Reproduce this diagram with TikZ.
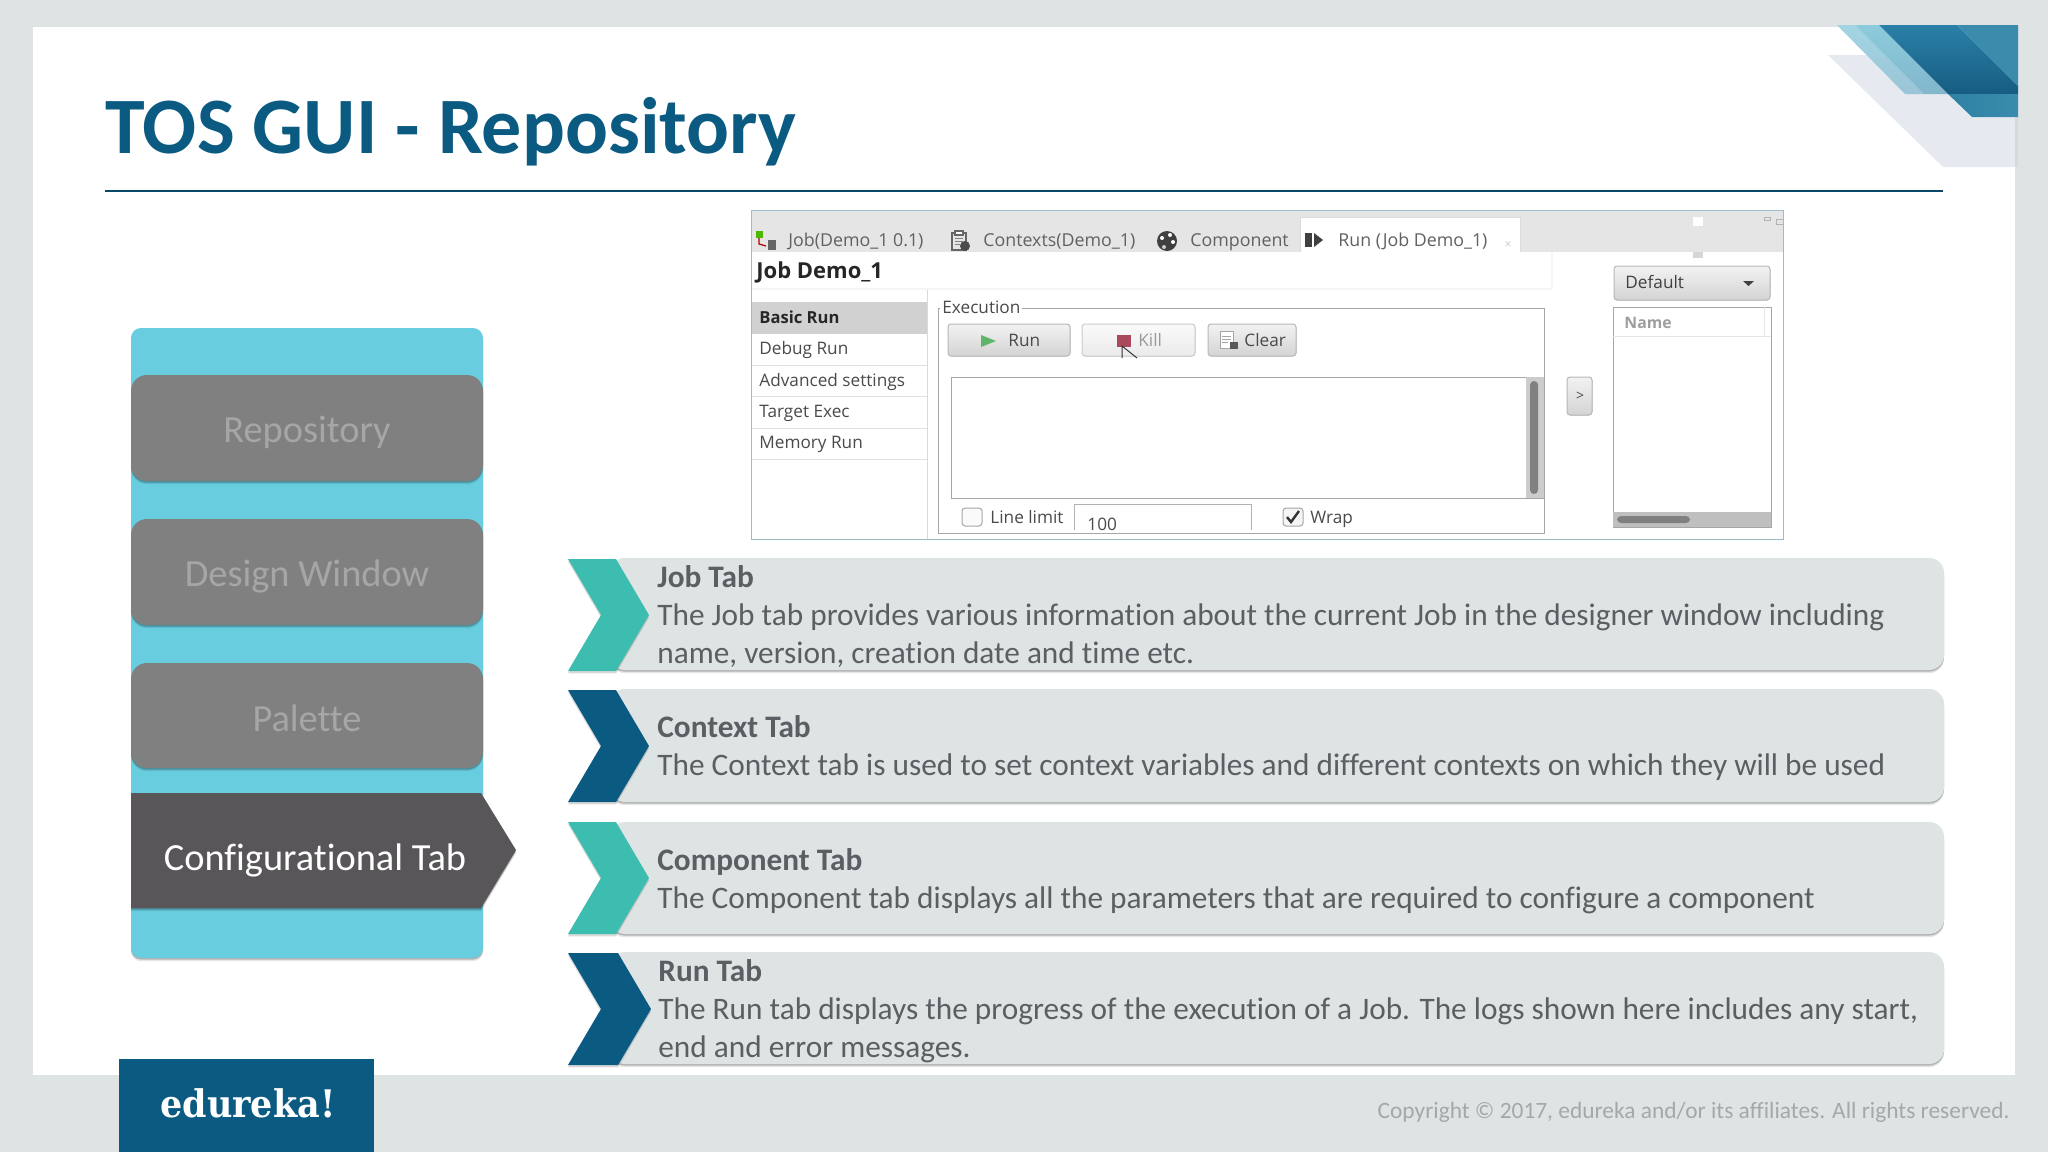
\documentclass[tikz,border=0pt]{standalone}
\usepackage{fontspec}
\setmainfont[Ligatures=NoCommon]{Carlito}
\newfontfamily\uifont{Open Sans}
\newfontfamily\logofont[FakeStretch=0.92]{DejaVu Serif}
\usetikzlibrary{shadows}
\definecolor{pagebg}{HTML}{DEE3E3}
\definecolor{navy}{HTML}{0B5A82}
\definecolor{teal}{HTML}{3DBDB0}
\definecolor{sky}{HTML}{69CDE0}
\definecolor{ink}{HTML}{595F62}
\definecolor{uiink}{HTML}{4A4A4A}
\definecolor{cgrey}{HTML}{E6EAF0}
\definecolor{ca}{HTML}{8CCBDC}
\definecolor{cb}{HTML}{82B6CC}
\definecolor{cc}{HTML}{2A80A8}
\definecolor{cd}{HTML}{175C82}
\definecolor{ce}{HTML}{3A8BAC}
\definecolor{cf}{HTML}{2F82A4}
\definecolor{border}{HTML}{9DBBC9}
\definecolor{copyink}{HTML}{A3A9AB}
\definecolor{killred}{HTML}{A84A5C}
\definecolor{playgreen}{HTML}{5FB56A}
\tikzset{
 softshadow/.style={drop shadow={shadow xshift=0pt,shadow yshift=-1.6pt,opacity=.10,fill=black},drop shadow={shadow xshift=0pt,shadow yshift=-.8pt,opacity=.22,fill=black}},
 greybox/.style={fill=black!50,rounded corners=8pt,softshadow},
 greylabel/.style={text=white!65!black,inner sep=0pt,font=\fontsize{19.2}{21}\selectfont},
 band/.style={fill=pagebg,rounded corners=7.5pt,softshadow},
 chevron/.style={drop shadow={shadow xshift=0pt,shadow yshift=-1.2pt,opacity=.15,fill=black}},
 bandtitle/.style={anchor=base west,text=ink,inner sep=0pt,font=\fontsize{15.65}{18}\selectfont\bfseries},
 bandbody/.style={anchor=base west,text=ink,inner sep=0pt,font=\fontsize{15.65}{18}\selectfont},
 ui/.style={anchor=base west,inner sep=0pt,text=uiink,font=\uifont\fontsize{8.6}{10}\selectfont},
 uitab/.style={ui,text=black!62,font=\uifont\fontsize{8.9}{10}\selectfont},
 uibtn/.style={draw=black!28,line width=.5pt,rounded corners=1.5pt,top color=black!5,bottom color=black!17},
 uirule/.style={draw=black!12,line width=.5pt},
 uibox/.style={draw=black!35,line width=.5pt}
}
\begin{document}
\begin{tikzpicture}[x=.5pt,y=-.5pt]
\useasboundingbox (0,0) rectangle (2048,1152);
\fill[pagebg] (0,0) rectangle (2048,1152);
\fill[white] (33,27) rectangle (2015,1075);
% corner decoration
\fill[cgrey] (1828,55) -- (2015,55) -- (2015,167) -- (1943,167) -- cycle;
\fill[black!15] (2015,117) rectangle (2018,167);
\shade[top color=ca,bottom color=cb] (1837,25) -- (1879,25) -- (1948,94) -- (1905,94) -- cycle;
\fill[white,opacity=.2] (1837,25) -- (1855,25) -- (1924,94) -- (1905,94) -- cycle;
\shade[top color=cc,bottom color=cd] (1879,25) -- (1957,25) -- (2018,86) -- (2018,94) -- (1948,94) -- cycle;
\fill[ce] (1957,25) -- (2018,25) -- (2018,86) -- cycle;
\shade[left color=cf,right color=ce] (1948,94) -- (2018,94) -- (2018,117) -- (1972,117) -- cycle;
% title
\node[anchor=base west,inner sep=0pt,text=navy,font=\fontsize{40}{44}\selectfont\bfseries] (title) at (105,153) {TOS GUI - Repository};
\draw[draw=navy!80!black,line width=1pt] (105,191) -- (1943,191);
% left stack
\fill[sky,rounded corners=5pt,softshadow] (131,328) rectangle (483,958);
\fill[greybox] (131,375) rectangle (483,481);
\fill[greybox] (131,519) rectangle (483,625);
\fill[greybox] (131,663) rectangle (483,768);
\node[greylabel] (repo) at (307,432) {Repository};
\node[greylabel] (design) at (307,576) {Design Window};
\node[greylabel] (palette) at (307,718) {Palette};
\fill[fill={rgb,255:red,89;green,86;blue,89},softshadow] (131,793) -- (481,793) -- (516,850) -- (481,908) -- (131,908) -- cycle;
\node[text=white,inner sep=0pt,anchor=base,font=\fontsize{19.2}{21}\selectfont] (config) at (315,870) {Configurational Tab};
% bands
\fill[band] (610,558) rectangle (1944,670);
\fill[band] (610,689) rectangle (1944,802);
\fill[band] (610,822) rectangle (1944,934);
\fill[band] (610,952) rectangle (1944,1064);
\fill[teal,chevron] (568,559) -- (616,559) -- (649,615) -- (616,671) -- (568,671) -- (601,615) -- cycle;
\fill[navy,chevron] (568,690) -- (616,690) -- (649,746) -- (616,802) -- (568,802) -- (601,746) -- cycle;
\fill[teal,chevron] (568,822) -- (616,822) -- (649,878) -- (616,934) -- (568,934) -- (601,878) -- cycle;
\fill[navy,chevron] (568,953) -- (618,953) -- (651,1009) -- (618,1065) -- (568,1065) -- (601,1009) -- cycle;
\node[bandtitle] (jobt) at (657,587) {Job Tab};
\node[bandbody] (jobl) at (657,625) {The Job tab provides various information about the current Job in the designer window including};
\node[bandbody] (jobm) at (657,663) {name, version, creation date and time etc.};
\node[bandtitle] (ctxt) at (657,737) {Context Tab};
\node[bandbody] (ctxl) at (657,775) {The Context tab is used to set context variables and different contexts on which they will be used};
\node[bandtitle] (cmpt) at (657,870) {Component Tab};
\node[bandbody] (cmpl) at (657,908) {The Component tab displays all the parameters that are required to configure a component};
\node[bandtitle] (runt) at (658,981) {Run Tab};
\node[bandbody] (runl) at (658,1019) {The Run tab displays the progress of the execution of a Job. The logs shown here includes any start,};
\node[bandbody] (runm) at (658,1057) {end and error messages.};
% footer
\fill[navy] (119,1059) rectangle (374,1152);
\node[anchor=base west,inner sep=0pt,text=white,font=\logofont\fontsize{19}{21}\selectfont\bfseries] (logo) at (160,1117) {edureka!};
\node[anchor=base east,inner sep=0pt,text=copyink,font=\fontsize{11.7}{14}\selectfont] (copy) at (2010,1118) {Copyright © 2017, edureka and/or its affiliates. All rights reserved.};
% screenshot
\fill[white] (751,210) rectangle (1783,539);
\fill[black!10] (751,210) rectangle (1783,252);
\fill[white] (1300,217) rectangle (1520,252);
\draw[black!14,line width=.5pt] (1300,252) -- (1300,217) -- (1520,217) -- (1520,252);
\fill[white] (1693,217) rectangle (1703,226);
\fill[black!16] (1693,252) rectangle (1703,258);
\draw[black!30,line width=.4pt] (1764,217) rectangle (1770,220) (1776,219) rectangle (1783,224);
\draw[black!4,line width=.8pt] (751,289) -- (1552,289);
\draw[black!4,line width=.8pt] (1552,252) -- (1552,289);
% tabs
\node[uitab] (tabjob) at (788,246) {Job(Demo\_1 0.1)};
\node[uitab] (tabctx) at (983,246) {Contexts(Demo\_1)};
\node[uitab] (tabcmp) at (1190,246) {Component};
\node[uitab] (tabrun) at (1338,246) {Run (Job Demo\_1)};
\node[anchor=base,inner sep=0pt,text=black!20,font=\uifont\fontsize{6}{7}\selectfont] (tabx) at (1508,248) {×};
% tab icons
\draw[red!70!black,line width=.6pt] (759,236) -- (759,244) -- (766,246);
\fill[green!60!black!70!yellow] (756,231) rectangle (763,238);
\fill[black!60] (768,240) rectangle (776,250);
\draw[black!60,line width=.7pt] (952,233) rectangle (966,250);
\fill[white] (955,231) rectangle (963,235);
\draw[black!60,line width=.7pt] (955,231) rectangle (963,235);
\draw[black!50,line width=.5pt] (955,238) -- (963,238) (955,241) -- (963,241) (955,244) -- (960,244);
\fill[black!70] (965,246) circle[radius=5];
\fill[black!75] (1167,241) circle[radius=10];
\fill[white] (1162,238) circle[radius=2] (1170,235) circle[radius=2] (1173,242) circle[radius=2];
\fill[black!20] (1164,247) circle[radius=2];
\fill[black!75] (1305,233) rectangle (1312,247);
\fill[black!75] (1314,233) -- (1323,240) -- (1314,247) -- cycle;
\node[anchor=base west,inner sep=0pt,text=black!85,font=\uifont\fontsize{11}{12}\selectfont\bfseries] (jobdemo) at (756,278) {Job Demo\_1};
% left list
\fill[black!18] (751,302) rectangle (927,334);
\draw[uirule] (751,365) -- (927,365) (751,396) -- (927,396) (751,428) -- (927,428) (751,459) -- (927,459);
\draw[black!15,line width=.5pt] (927,290) -- (927,539);
\node[ui,text=black!85,font=\uifont\fontsize{8.3}{10}\selectfont\bfseries] (basic) at (759,323) {Basic Run};
\node[ui] (debug) at (759,354) {Debug Run};
\node[ui] (adv) at (759,386) {Advanced settings};
\node[ui] (target) at (759,417) {Target Exec};
\node[ui] (memory) at (759,448) {Memory Run};
% execution group
\draw[uibox] (938,308) rectangle (1544,533);
\node[ui,fill=white,inner xsep=1pt,inner ysep=1pt] (exec) at (940,313) {Execution};
\fill[uibtn] (948,324) rectangle (1070,356);
\fill[uibtn,top color=black!2,bottom color=black!8,draw=black!20] (1082,324) rectangle (1195,356);
\fill[uibtn] (1208,324) rectangle (1296,356);
\fill[playgreen] (981,335) -- (996,341) -- (981,347) -- cycle;
\node[ui] (run) at (1008,346) {Run};
\fill[killred] (1117,335) rectangle (1131,347);
\draw[black!80,line width=.5pt] (1122,358) -- (1122,346) -- (1137,358);
\node[ui,text=black!40] (kill) at (1138,346) {Kill};
\fill[white] (1220,331) rectangle (1233,348);
\draw[black!35,line width=.5pt] (1220,331) rectangle (1233,348);
\draw[black!35,line width=.4pt] (1222,336) -- (1231,336) (1222,339) -- (1231,339) (1222,342) -- (1228,342);
\fill[black!65] (1230,342) rectangle (1238,349);
\node[ui] (clear) at (1244,346) {Clear};
\fill[white] (951,377) rectangle (1544,498);
\draw[uibox] (951,377) rectangle (1544,498);
\fill[black!20] (1526,377) rectangle (1544,498);
\fill[black!50,rounded corners=2pt] (1530,381) rectangle (1538,494);
\draw[black!35,line width=.5pt,fill=black!2,rounded corners=1.5pt] (962,508) rectangle (982,526);
\node[ui] (limit) at (990,523) {Line limit};
\draw[black!30,line width=.5pt] (1074,530) -- (1074,504) -- (1251,504) -- (1251,530);
\node[ui] (hundred) at (1087,530) {100};
\draw[black!35,line width=.5pt,fill=black!4,rounded corners=1.5pt] (1283,508) rectangle (1303,526);
\draw[black!80,line width=1.2pt] (1287,517) -- (1291,522) -- (1299,511);
\node[ui] (wrap) at (1310,523) {Wrap};
% right controls
\fill[uibtn] (1567,377) rectangle (1592,415);
\node[ui,anchor=center,font=\uifont\fontsize{7}{8}\selectfont] (gt) at (1580,396) {>};
\fill[uibtn] (1614,266) rectangle (1770,300);
\node[ui,text=black!75] (default) at (1625,288) {Default};
\fill[black!75] (1743,281) -- (1754,281) -- (1748.5,286) -- cycle;
\draw[uibox] (1613,307) rectangle (1771,527);
\draw[black!10,line width=.5pt] (1613,336) -- (1771,336) (1764,307) -- (1764,336);
\node[ui,text=black!38,font=\uifont\fontsize{7.9}{9}\selectfont\bfseries] (name) at (1624,328) {Name};
\fill[black!25] (1613,512) rectangle (1771,527);
\fill[black!50,rounded corners=2pt] (1617,516) rectangle (1690,523);
\draw[border,line width=.4pt] (751,210) rectangle (1783,539);
\end{tikzpicture}
\end{document}
